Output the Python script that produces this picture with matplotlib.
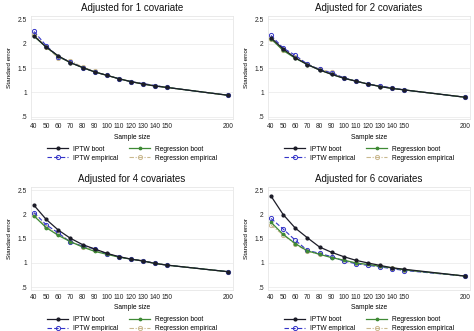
import numpy as np
import matplotlib.pyplot as plt

plt.rcParams['font.family'] = ['Liberation Sans', 'DejaVu Sans']

# sample sizes
n = [40, 50, 60, 70, 80, 90, 100, 110, 120, 130, 140, 150, 200]
xticks = [40, 50, 60, 70, 80, 90, 100, 110, 120, 130, 140, 150, 200]

titles = ['Adjusted for 1 covariate', 'Adjusted for 2 covariates',
          'Adjusted for 4 covariates', 'Adjusted for 6 covariates']

# 1 covariate
iptw_boot_1 = [2.16, 1.93, 1.75, 1.61, 1.51, 1.42, 1.35, 1.28, 1.22, 1.17, 1.13, 1.10, 0.94]
iptw_emp_1 = [2.25, 1.96, 1.73, 1.62, 1.51, 1.42, 1.35, 1.28, 1.22, 1.18, 1.14, 1.10, 0.94]
reg_boot_1 = [2.15, 1.93, 1.74, 1.61, 1.51, 1.42, 1.35, 1.28, 1.22, 1.17, 1.13, 1.10, 0.94]
reg_emp_1 = [2.20, 1.93, 1.71, 1.65, 1.52, 1.43, 1.35, 1.28, 1.22, 1.18, 1.14, 1.10, 0.94]

# 2 covariates
iptw_boot_2 = [2.12, 1.89, 1.71, 1.57, 1.46, 1.37, 1.29, 1.23, 1.17, 1.12, 1.08, 1.05, 0.90]
iptw_emp_2 = [2.17, 1.91, 1.76, 1.58, 1.47, 1.40, 1.30, 1.23, 1.17, 1.13, 1.09, 1.05, 0.90]
reg_boot_2 = [2.10, 1.86, 1.70, 1.57, 1.46, 1.37, 1.29, 1.23, 1.17, 1.12, 1.08, 1.05, 0.90]
reg_emp_2 = [2.09, 1.87, 1.72, 1.58, 1.48, 1.41, 1.30, 1.23, 1.17, 1.13, 1.09, 1.05, 0.90]

# 4 covariates
iptw_boot_4 = [2.19, 1.90, 1.68, 1.51, 1.38, 1.29, 1.20, 1.13, 1.08, 1.04, 0.99, 0.955, 0.82]
iptw_emp_4 = [2.04, 1.79, 1.62, 1.43, 1.35, 1.29, 1.19, 1.13, 1.08, 1.05, 0.99, 0.955, 0.82]
reg_boot_4 = [1.97, 1.73, 1.57, 1.44, 1.33, 1.24, 1.18, 1.12, 1.08, 1.04, 0.99, 0.955, 0.82]
reg_emp_4 = [1.99, 1.75, 1.59, 1.45, 1.34, 1.26, 1.19, 1.13, 1.08, 1.05, 0.99, 0.955, 0.82]

# 6 covariates
iptw_boot_6 = [2.38, 2.00, 1.72, 1.52, 1.33, 1.22, 1.13, 1.055, 1.00, 0.95, 0.90, 0.87, 0.73]
iptw_emp_6 = [1.92, 1.70, 1.47, 1.26, 1.20, 1.13, 1.04, 0.985, 0.95, 0.92, 0.88, 0.845, 0.73]
reg_boot_6 = [1.84, 1.59, 1.40, 1.25, 1.18, 1.11, 1.06, 1.00, 0.97, 0.93, 0.90, 0.86, 0.73]
reg_emp_6 = [1.78, 1.58, 1.39, 1.24, 1.18, 1.12, 1.05, 1.00, 0.96, 0.93, 0.89, 0.85, 0.73]

panels = [
    (iptw_boot_1, iptw_emp_1, reg_boot_1, reg_emp_1),
    (iptw_boot_2, iptw_emp_2, reg_boot_2, reg_emp_2),
    (iptw_boot_4, iptw_emp_4, reg_boot_4, reg_emp_4),
    (iptw_boot_6, iptw_emp_6, reg_boot_6, reg_emp_6),
]

W, H = 474, 331
fig = plt.figure(figsize=(W / 100, H / 100), dpi=100)

# axes boxes in pixels: left, top, right, bottom
boxes = [(31, 16, 233, 119), (268, 16, 470, 119),
         (31, 187, 233, 289.5), (268, 187, 470, 289.5)]

for box, data, title in zip(boxes, panels, titles):
    l, t, r, b = box
    ax = fig.add_axes([l / W, 1 - b / H, (r - l) / W, (b - t) / H])
    ib, ie, rb, re = data

    ax.plot(n, ib, color='#1c1c28', lw=0.9, marker='o', ms=2.0, label='IPTW boot', zorder=4)
    ax.plot(n, rb, color='#3f8a35', lw=0.9, marker='o', ms=1.7, label='Regression boot', zorder=3)
    ax.plot(n, ie, color='#3434c8', lw=0.8, ls=(0, (4, 2)), marker='o', ms=3.0,
            mfc='none', mew=0.7, label='IPTW empirical', zorder=2)
    ax.plot(n, re, color='#c9b88e', lw=0.8, ls=(0, (4, 1.5, 1, 1.5)), marker='o', ms=3.0,
            mfc='none', mew=0.7, label='Regression empirical', zorder=1)

    ax.set_xlim(37.5, 204.1)
    ax.set_ylim(0.453, 2.568)
    ax.set_xticks(xticks)
    ax.set_yticks([0.5, 1, 1.5, 2, 2.5])
    ax.set_yticklabels(['.5', '1', '1.5', '2', '2.5'])
    ax.tick_params(length=0, labelsize=4.8, pad=3, colors='#222222')
    ax.grid(axis='y', color='#ececec', lw=0.6)
    ax.set_axisbelow(True)
    for s in ax.spines.values():
        s.set_color('#e6e6e6')
        s.set_linewidth(0.6)

    ax.set_title(title, fontsize=7.0, pad=3.5, color='#111111')
    ax.set_xlabel('Sample size', fontsize=4.8, labelpad=2.5)
    ax.set_ylabel('Standard error', fontsize=4.6, labelpad=4)

    handles, labels = ax.get_legend_handles_labels()
    order = [0, 2, 1, 3]
    ax.legend([handles[k] for k in order], [labels[k] for k in order],
              ncol=2, loc='upper center', bbox_to_anchor=(0.5, -0.2),
              frameon=False, fontsize=4.8, handlelength=3.2, numpoints=1,
              columnspacing=1.6, handletextpad=0.7, labelspacing=0.3)

fig.savefig('out.png', dpi=100, facecolor='white')
